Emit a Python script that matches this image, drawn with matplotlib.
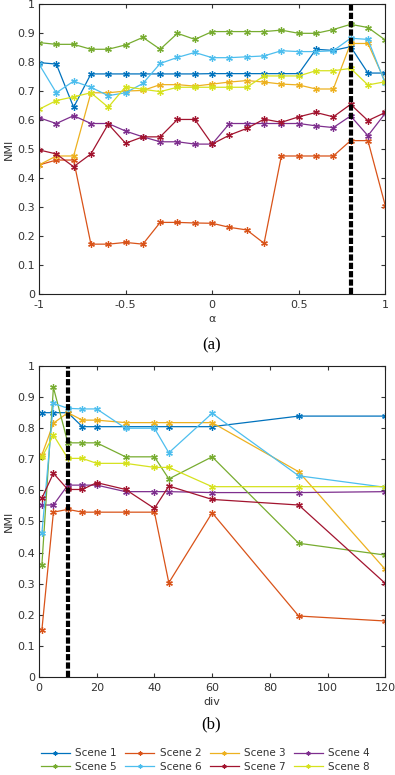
import matplotlib
matplotlib.use("Agg")
import matplotlib.pyplot as plt

# NMI vs alpha, panel (a)
alpha = [-1.0, -0.9, -0.8, -0.7, -0.6, -0.5, -0.4, -0.3, -0.2, -0.1, 0.0,
         0.1, 0.2, 0.3, 0.4, 0.5, 0.6, 0.7, 0.8, 0.9, 1.0]
a_scene1 = [0.798, 0.793, 0.644, 0.759, 0.759, 0.759, 0.759, 0.759, 0.759, 0.759, 0.760,
            0.760, 0.760, 0.760, 0.760, 0.760, 0.844, 0.840, 0.853, 0.762, 0.762]
a_scene2 = [0.445, 0.462, 0.462, 0.172, 0.172, 0.178, 0.172, 0.247, 0.247, 0.245, 0.244,
            0.230, 0.221, 0.175, 0.476, 0.476, 0.476, 0.476, 0.529, 0.529, 0.305]
a_scene3 = [0.445, 0.476, 0.476, 0.694, 0.694, 0.700, 0.702, 0.722, 0.722, 0.717, 0.724,
            0.731, 0.736, 0.731, 0.724, 0.721, 0.707, 0.707, 0.864, 0.864, 0.732]
a_scene4 = [0.608, 0.588, 0.615, 0.588, 0.588, 0.562, 0.542, 0.525, 0.525, 0.517, 0.517,
            0.588, 0.588, 0.588, 0.588, 0.588, 0.580, 0.574, 0.614, 0.546, 0.623]
a_scene5 = [0.867, 0.861, 0.861, 0.844, 0.844, 0.859, 0.885, 0.844, 0.899, 0.878, 0.905,
            0.905, 0.905, 0.905, 0.910, 0.899, 0.899, 0.912, 0.930, 0.919, 0.876]
a_scene6 = [0.793, 0.694, 0.734, 0.713, 0.684, 0.694, 0.726, 0.795, 0.816, 0.833, 0.815,
            0.815, 0.818, 0.821, 0.839, 0.836, 0.836, 0.839, 0.882, 0.878, 0.726]
a_scene7 = [0.497, 0.483, 0.439, 0.483, 0.586, 0.520, 0.542, 0.542, 0.602, 0.602, 0.517,
            0.548, 0.571, 0.603, 0.592, 0.611, 0.626, 0.611, 0.654, 0.598, 0.626]
a_scene8 = [0.637, 0.667, 0.680, 0.694, 0.644, 0.715, 0.706, 0.698, 0.713, 0.713, 0.713,
            0.713, 0.713, 0.752, 0.752, 0.752, 0.770, 0.770, 0.778, 0.721, 0.732]

# NMI vs div, panel (b)
div = [1, 5, 10, 15, 20, 30, 40, 45, 60, 90, 120]
b_scene1 = [0.850, 0.850, 0.850, 0.805, 0.805, 0.805, 0.805, 0.805, 0.805, 0.839, 0.839]
b_scene2 = [0.151, 0.530, 0.539, 0.530, 0.530, 0.530, 0.530, 0.303, 0.528, 0.196, 0.180]
b_scene3 = [0.714, 0.816, 0.850, 0.826, 0.826, 0.818, 0.818, 0.818, 0.818, 0.660, 0.346]
b_scene4 = [0.553, 0.553, 0.617, 0.617, 0.617, 0.596, 0.596, 0.596, 0.593, 0.593, 0.596]
b_scene5 = [0.360, 0.931, 0.753, 0.753, 0.753, 0.708, 0.708, 0.637, 0.708, 0.430, 0.392]
b_scene6 = [0.462, 0.880, 0.864, 0.862, 0.862, 0.800, 0.800, 0.721, 0.848, 0.647, 0.610]
b_scene7 = [0.575, 0.655, 0.603, 0.603, 0.625, 0.603, 0.542, 0.614, 0.571, 0.553, 0.301]
b_scene8 = [0.706, 0.778, 0.703, 0.703, 0.687, 0.687, 0.674, 0.674, 0.612, 0.612, 0.612]

labels = ["Scene 1", "Scene 2", "Scene 3", "Scene 4",
          "Scene 5", "Scene 6", "Scene 7", "Scene 8"]
colors = ["#0072BD", "#D95319", "#EDB120", "#7E2F8E",
          "#77AC30", "#4DBEEE", "#A2142F", "#D6E21E"]

a_series = [a_scene1, a_scene2, a_scene3, a_scene4, a_scene5, a_scene6, a_scene7, a_scene8]
b_series = [b_scene1, b_scene2, b_scene3, b_scene4, b_scene5, b_scene6, b_scene7, b_scene8]

star = (6, 2, 0)  # asterisk marker, like matlab '*'
tick_color = "#333333"

fig = plt.figure(figsize=(3.95, 7.75), dpi=100)
ax1 = fig.add_axes([0.0987, 0.6206, 0.8766, 0.3742])
ax2 = fig.add_axes([0.0987, 0.1265, 0.8766, 0.4012])


def style_axes(ax):
    ax.tick_params(direction="in", top=True, right=True, length=3, width=0.8,
                   labelsize=8, colors=tick_color)
    ax.tick_params(axis="x", pad=4)
    ax.tick_params(axis="y", pad=3)
    for sp in ax.spines.values():
        sp.set_linewidth(0.8)
        sp.set_color("#222222")
    ax.set_yticks([i / 10 for i in range(11)])
    ax.set_yticklabels(["0"] + ["0.%d" % i for i in range(1, 10)] + ["1"])
    ax.set_ylim(0, 1)


lines = []
for ys, c, lab in zip(a_series, colors, labels):
    ax1.plot(alpha, ys, color=c, lw=0.9, marker=star, ms=4.8, mew=0.9, label=lab)
ax1.axvline(0.8, color="k", lw=3, ls=(0, (1.5, 0.5)))
ax1.set_xlim(-1, 1)
ax1.set_xticks([-1, -0.5, 0, 0.5, 1])
ax1.set_xticklabels(["-1", "-0.5", "0", "0.5", "1"])
style_axes(ax1)
ax1.set_ylabel("NMI", fontsize=8, color=tick_color, labelpad=2)
ax1.set_xlabel("\u03b1", fontsize=8, color=tick_color, labelpad=3)

for ys, c, lab in zip(b_series, colors, labels):
    ln, = ax2.plot(div, ys, color=c, lw=0.9, marker=star, ms=4.8, mew=0.9, label=lab)
    lines.append(ln)
ax2.axvline(10, color="k", lw=3, ls=(0, (1.5, 0.5)))
ax2.set_xlim(0, 120)
ax2.set_xticks([0, 20, 40, 60, 80, 100, 120])
style_axes(ax2)
ax2.set_ylabel("NMI", fontsize=8, color=tick_color, labelpad=2)
ax2.set_xlabel("div", fontsize=8, color=tick_color, labelpad=3)

fig.text(0.535, 1 - 345 / 775, "(a)", ha="center", va="center",
         fontsize=12, family="Liberation Serif")
fig.text(0.535, 1 - 724 / 775, "(b)", ha="center", va="center",
         fontsize=12, family="Liberation Serif")

# legend fills column by column, so reorder to get Scene 1-4 on the first row
order = [0, 4, 1, 5, 2, 6, 3, 7]
leg = fig.legend([lines[i] for i in order], [labels[i] for i in order],
                 loc="center", bbox_to_anchor=(0.52, 1 - 760 / 775),
                 ncol=4, frameon=False, fontsize=7.5, handlelength=2.8,
                 columnspacing=0.8, handletextpad=0.5, labelspacing=0.3,
                 markerscale=0.6)
for t in leg.get_texts():
    t.set_color(tick_color)

fig.savefig("out.png", dpi=100)
